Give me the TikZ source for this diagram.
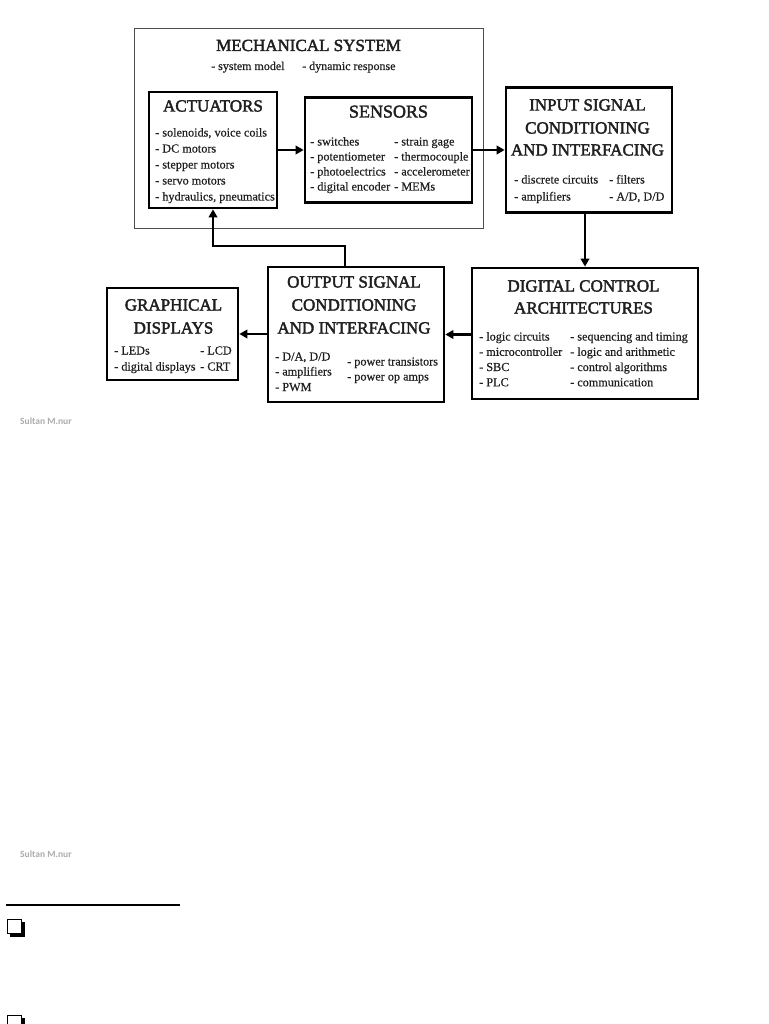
\documentclass[tikz,border=0pt]{standalone}
\usepackage{fontspec}
\setmainfont{Liberation Serif}
\newfontfamily\ttlfont{Liberation Serif}[FakeBold=2.2]
\newfontfamily\itmfont{Liberation Serif}[FakeBold=0.5]
\newfontfamily\wmfont{Carlito}
\usetikzlibrary{arrows.meta}
\definecolor{ink}{gray}{0.12}
\begin{document}
\begin{tikzpicture}[x=1pt,y=-1pt,
  blk/.style={draw=black, line width=2.7pt, inner sep=0pt},
  ttl/.style={font=\ttlfont\fontsize{17}{20}\selectfont, anchor=base, inner sep=0pt, text=ink},
  itm/.style={font=\itmfont\fontsize{12.2}{14}\selectfont, anchor=base west, inner sep=0pt, text=ink},
  arr/.style={line width=2.8pt, -{Triangle[length=8pt,width=8.5pt]}},
  wmk/.style={font=\wmfont\bfseries\fontsize{9.5}{11}\selectfont, text=gray!65, anchor=base west, inner sep=0pt}]
\useasboundingbox[fill=white] (0,0) rectangle (768,1024);

% mechanical system frame
\node[draw=gray!60!black, line width=0.9pt, minimum width=349pt, minimum height=200pt, inner sep=0pt] (mech) at (308.5,128) {};
\node[ttl] (mecht) at (308.5,51) {MECHANICAL SYSTEM};
\node[itm, font=\itmfont\fontsize{12}{14}\selectfont] (mech1) at (211,70) {- system model};
\node[itm, font=\itmfont\fontsize{12}{14}\selectfont] (mech2) at (302,70) {- dynamic response};

% boxes
\node[blk, minimum width=128pt, minimum height=116pt] (act) at (213,150) {};
\node[blk, minimum width=167pt, minimum height=105pt] (sens) at (388.5,150) {};
\node[blk, minimum width=166pt, minimum height=125pt] (inp) at (589,150) {};
\node[blk, minimum width=226pt, minimum height=131pt] (dig) at (585,333.5) {};
\node[blk, minimum width=176pt, minimum height=135pt] (out) at (356,334.5) {};
\node[blk, minimum width=131pt, minimum height=92pt] (gra) at (172.5,334) {};

% actuators
\node[ttl] (actt) at (213,111.5) {ACTUATORS};
\node[itm] (a1) at (155,136.5) {- solenoids, voice coils};
\node[itm] (a2) at (155,152.5) {- DC motors};
\node[itm] (a3) at (155,168.5) {- stepper motors};
\node[itm] (a4) at (155,184.5) {- servo motors};
\node[itm] (a5) at (155,200.5) {- hydraulics, pneumatics};

% sensors
\node[ttl, font=\ttlfont\fontsize{18}{20}\selectfont] (senst) at (388.5,117.5) {SENSORS};
\node[itm] (s1) at (310,145.5) {- switches};
\node[itm] (s2) at (310,160.5) {- potentiometer};
\node[itm] (s3) at (310,175.5) {- photoelectrics};
\node[itm] (s4) at (310,190.5) {- digital encoder};
\node[itm] (s5) at (394,145.5) {- strain gage};
\node[itm] (s6) at (394,160.5) {- thermocouple};
\node[itm] (s7) at (394,175.5) {- accelerometer};
\node[itm] (s8) at (394,190.5) {- MEMs};

% input signal conditioning
\node[ttl] (inpt1) at (587.5,110.5) {INPUT SIGNAL};
\node[ttl] (inpt2) at (587.5,133.5) {CONDITIONING};
\node[ttl] (inpt3) at (587.5,155.5) {AND INTERFACING};
\node[itm] (i1) at (514,183.5) {- discrete circuits};
\node[itm] (i2) at (514,200.5) {- amplifiers};
\node[itm] (i3) at (609,183.5) {- filters};
\node[itm] (i4) at (609,200.5) {- A/D, D/D};

% digital control architectures
\node[ttl] (digt1) at (583.5,291.5) {DIGITAL CONTROL};
\node[ttl] (digt2) at (583.5,313.5) {ARCHITECTURES};
\node[itm] (d1) at (479,340.5) {- logic circuits};
\node[itm] (d2) at (479,355.8) {- microcontroller};
\node[itm] (d3) at (479,371) {- SBC};
\node[itm] (d4) at (479,386.3) {- PLC};
\node[itm] (d5) at (570,340.5) {- sequencing and timing};
\node[itm] (d6) at (570,355.8) {- logic and arithmetic};
\node[itm] (d7) at (570,371) {- control algorithms};
\node[itm] (d8) at (570,386.3) {- communication};

% output signal conditioning
\node[ttl] (outt1) at (354,287.5) {OUTPUT SIGNAL};
\node[ttl] (outt2) at (354,310.5) {CONDITIONING};
\node[ttl] (outt3) at (354,333.5) {AND INTERFACING};
\node[itm] (o1) at (275,360.5) {- D/A, D/D};
\node[itm] (o2) at (275,375.5) {- amplifiers};
\node[itm] (o3) at (275,391) {- PWM};
\node[itm] (o4) at (347,365.5) {- power transistors};
\node[itm] (o5) at (347,380.5) {- power op amps};

% graphical displays
\node[ttl] (grat1) at (173.5,310.5) {GRAPHICAL};
\node[ttl] (grat2) at (173.5,333.5) {DISPLAYS};
\node[itm] (g1) at (114,354.5) {- LEDs};
\node[itm] (g2) at (114,370.5) {- digital displays};
\node[itm] (g3) at (200,354.5) {- LCD};
\node[itm] (g4) at (200,370.5) {- CRT};

% connectors
\draw[arr] (act.east) -- (sens.west |- act.east);
\draw[arr] (sens.east) -- (inp.west |- sens.east);
\draw[arr] (inp.south -| dig.north) -- (dig.north);
\draw[arr] (dig.west |- out.east) -- (out.east);
\draw[arr] (out.west |- gra.east) -- (gra.east);
\coordinate (fb) at (213,246);
\draw[arr] ([xshift=-11pt]out.north) |- (fb) -- (act.south);

% page furniture
\node[wmk] (wm1) at (20,424) {Sultan M.nur};
\node[wmk] (wm2) at (20,857) {Sultan M.nur};
\draw[line width=2pt] (6,905) -- (180,905);
\fill[black] (10,922) rectangle (24.5,936.5);
\filldraw[fill=white, draw=black, line width=0.9pt] (7,919) rectangle (21,933);
\fill[black] (10,1018) rectangle (24.5,1032);
\filldraw[fill=white, draw=black, line width=0.9pt] (7,1015) rectangle (21,1029);
\end{tikzpicture}
\end{document}
